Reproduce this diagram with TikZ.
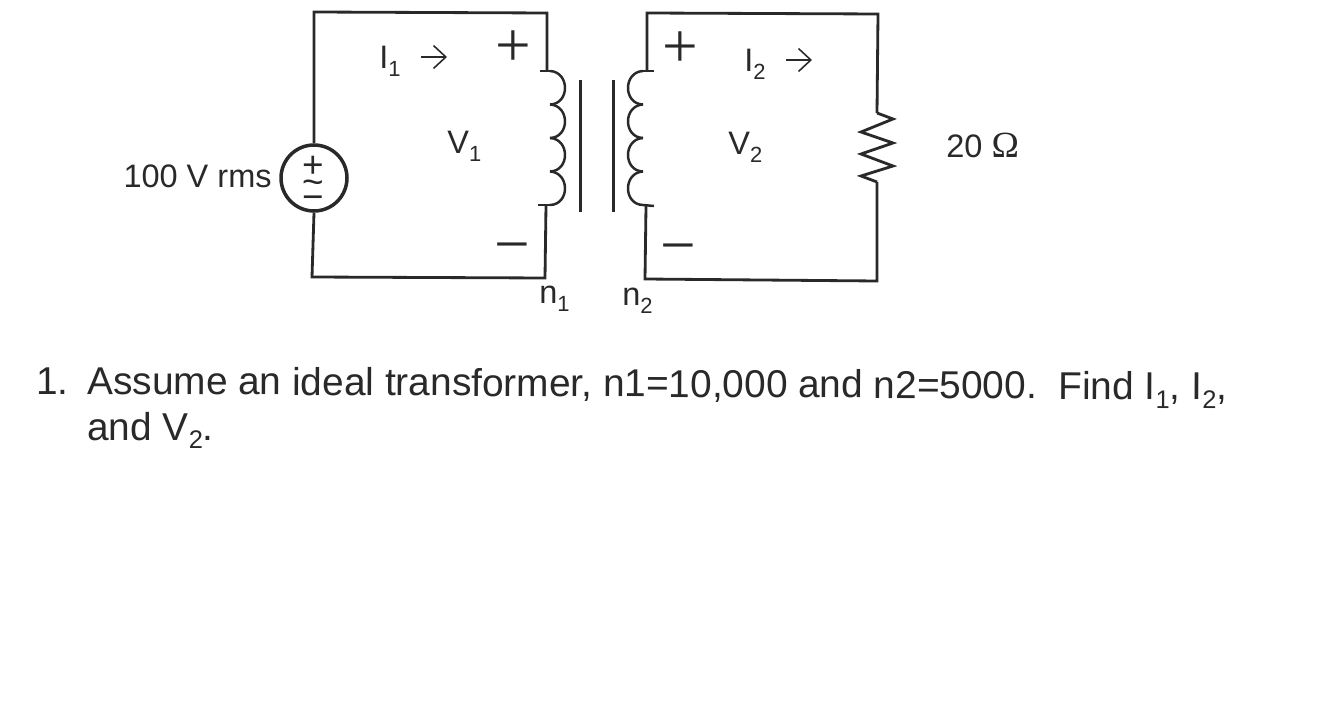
\documentclass[tikz,border=0pt]{standalone}
\usepackage{fontspec}
\setmainfont{Liberation Sans}
\newfontfamily\signfont{Liberation Serif}
\usetikzlibrary{arrows.meta}
\definecolor{inkdark}{gray}{0.16}
\newcommand{\sublab}[2]{#1\raisebox{-0.22em}{\fontsize{12.5}{12.5}\selectfont #2}}
\newcommand{\sublabb}[2]{#1\raisebox{-0.22em}{\fontsize{14.5}{14.5}\selectfont #2}}
\tikzset{
    wire/.style={draw=inkdark, line width=1.6pt, line join=miter},
    coil/.style={draw=inkdark, line width=1.4pt},
    corebar/.style={draw=inkdark, line width=1.7pt},
    flow/.style={draw=inkdark, line width=0.9pt, -{Straight Barb[length=7pt,width=13pt,line width=0.9pt]}},
    lab/.style={text=inkdark, inner sep=0, anchor=base west, font=\fontsize{18.5}{18.5}\selectfont},
    sign/.style={text=inkdark, inner sep=0, anchor=base, font=\signfont\fontsize{36}{36}\selectfont},
    srcsign/.style={text=inkdark, inner sep=0, anchor=base, font=\fontsize{21}{21}\selectfont},
    para/.style={text=inkdark, inner sep=0, anchor=base west, font=\fontsize{22.1}{22.1}\selectfont}
}
\begin{document}
\begin{tikzpicture}[x=0.02cm, y=-0.02cm]
    \useasboundingbox (0,0) rectangle (1318,709);

    % Source
    \node[draw=inkdark, line width=2pt, circle, minimum size=1.32cm, inner sep=0] (src) at (314,178) {};
    \node[srcsign] (srcplus) at (313,177.5) {+};
    \node[srcsign] (srctilde) at (313,194.5) {\char"007E};
    \node[srcsign] (srcminus) at (313,209.5) {−};
    \node[lab, anchor=base east] (srclab) at (272,188) {100 V rms};

    % Primary loop
    \coordinate (ptl) at (314,12);
    \coordinate (ptr) at (547,13);
    \coordinate (pcoiltop) at (547,71);
    \coordinate (pcoilbot) at (546,205);
    \coordinate (pbr) at (545,278);
    \coordinate (pbl) at (312,277);
    \draw[wire] (src.north) -- (ptl) -- (ptr) -- (pcoiltop);
    \draw[wire] (pcoilbot) -- (pbr) -- (pbl) -- (src.south);

    % Secondary loop
    \coordinate (stl) at (647,13);
    \coordinate (str) at (878,14);
    \coordinate (rtop) at (877,113);
    \coordinate (rbot) at (877,182);
    \coordinate (sbr) at (877,281);
    \coordinate (sbl) at (645,279);
    \coordinate (scoiltop) at (647,71);
    \coordinate (scoilbot) at (646,206);
    \draw[wire] (scoiltop) -- (stl) -- (str) -- (rtop);
    \draw[wire] (rbot) -- (sbr) -- (sbl) -- (scoilbot);

    % Resistor
    \draw[wire] (rtop) -- (893,119) -- (861,132) -- (893,143) -- (861,154) -- (893,166) -- (861,176) -- (rbot);

    % Coils
    \foreach \y in {71,104.5,138,171.5} {
        \draw[coil] (550,\y) .. controls (570,\y+1) and (570,\y+33) .. (550,\y+33.5);
        \draw[coil] (643,\y) .. controls (623,\y+1) and (623,\y+33) .. (643,\y+33.5);
    }
    \draw[coil] (540,71) -- (550,71);
    \draw[coil] (538,205) -- (550,205);
    \draw[coil] (643,71) -- (654,71);
    \draw[coil] (643,205) -- (654,206);

    % Core
    \coordinate (corea) at (580,80);
    \coordinate (coreb) at (580,212);
    \coordinate (corec) at (613,80);
    \coordinate (cored) at (613,212);
    \draw[corebar] (corea) -- (coreb);
    \draw[corebar] (corec) -- (cored);

    % Polarity
    \node[sign] (pplus) at (513,67) {+};
    \node[sign] (pminus) at (512,266) {−};
    \node[sign] (splus) at (680,68) {+};
    \node[sign] (sminus) at (678,267) {−};

    % Currents
    \node[lab] (ione) at (379,69) {\sublab{I}{1}};
    \node[lab] (itwo) at (744,72) {\sublab{I}{2}};
    \coordinate (ionea) at (421,57);
    \coordinate (ioneb) at (447,57);
    \coordinate (itwoa) at (786,60);
    \coordinate (itwob) at (812,60);
    \draw[flow] (ionea) -- (ioneb);
    \draw[flow] (itwoa) -- (itwob);

    % Labels
    \node[lab] (vone) at (447,154) {\sublab{V}{1}};
    \node[lab] (vtwo) at (728,155) {\sublab{V}{2}};
    \node[lab] (none) at (539,304) {\sublab{n}{1}};
    \node[lab] (ntwo) at (622,306) {\sublab{n}{2}};
    \node[lab] (rlab) at (946,158) {20 {\signfont\fontsize{21}{21}\selectfont Ω}};

    % Problem text
    \node[para] (numone) at (36,395) {1.};
    \node[para, rotate=-0.3] (lineone) at (87,394) {Assume an ideal transformer, n1=10,000 and n2=5000.\ \ Find \sublabb{I}{1}, \sublabb{I}{2},};
    \node[para] (linetwo) at (87,440) {and \sublabb{V}{2}.};
\end{tikzpicture}
\end{document}
